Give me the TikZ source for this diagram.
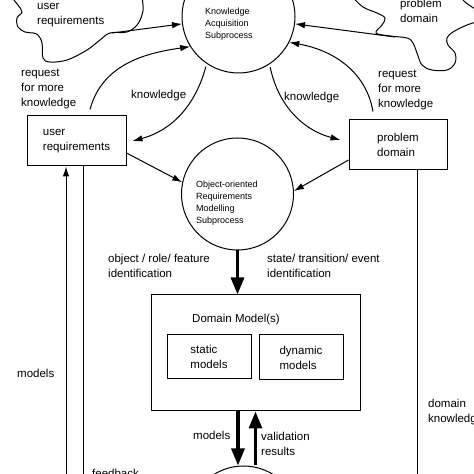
\documentclass[tikz,border=0pt]{standalone}
\usepackage{fontspec}
\setmainfont{Liberation Sans}
\usetikzlibrary{arrows.meta,positioning}

\begin{document}
\begin{tikzpicture}[x=1pt,y=1pt,
  box/.style={draw,line width=1pt,align=left,inner sep=0pt,font=\fontsize{11.5}{15}\selectfont},
  proc/.style={draw,circle,line width=1pt,inner sep=0pt},
  arrow/.style={-{Latex[length=10pt,width=6.5pt]},line width=1pt},
  bigarrow/.style={-{Triangle[length=17pt,width=13pt]},line width=3.2pt},
  line/.style={line width=1pt},
  cloud/.style={line width=1pt},
  note/.style={font=\fontsize{11.5}{15}\selectfont,align=left,inner sep=0pt},
  ptext/.style={font=\fontsize{9}{12}\selectfont,align=left,inner sep=0pt}
]
\useasboundingbox (0,0) rectangle (474,474);
\clip (0,0) rectangle (474,474);
% clouds
\draw[cloud] plot[smooth,tension=0.6] coordinates {(10,490) (13,476) (18,469) (22,462) (17,456) (18,447) (25,442) (33,441) (38,439) (42,431) (43,416) (50,412) (67,414) (87,424) (100,434) (110,441) (127,442) (137,449) (142,459) (143,469) (140,490)};
\draw[cloud] plot[smooth,tension=0.6] coordinates {(345,490) (352,478) (363,467) (377,461) (385,456) (382,449) (376,441) (390,438) (407,436) (413,431) (417,421) (422,409) (432,404) (447,404) (455,411) (455,421) (448,429) (447,436) (453,442) (467,449) (480,453)};
\draw[cloud] plot[smooth,tension=0.6] coordinates {(460,482) (463,474) (472,467) (482,461)};
\node[note,anchor=west] (ucltxt) at (37,458.5) {user\\requirements};
\node[note,anchor=west] (pcltxt) at (400,463) {problem\\domain};
\coordinate (uclout) at (112,441);
\coordinate (pclout) at (395,437);
% subprocesses
\node[proc,minimum size=113pt] (kac) at (238.5,457.5) {};
\node[ptext,anchor=west] (kactxt) at (205,450) {Knowledge\\Acquisition\\Subprocess};
\node[proc,minimum size=112pt] (orm) at (237.5,280) {};
\node[ptext,anchor=west] (ormtxt) at (196,270.5) {Object-oriented\\Requirements\\Modelling\\Subprocess};
\node[proc,minimum size=112pt] (valp) at (243.5,-48) {};
% boxes
\node[box,minimum width=99pt,minimum height=50pt] (ureq) at (76.5,333) {user\\requirements};
\node[box,minimum width=98pt,minimum height=50pt] (pdom) at (398,329) {problem\\domain};
\node[box,minimum width=209pt,minimum height=116pt] (dmod) at (255.5,121) {};
\node[note,anchor=west] (dmodtxt) at (192,154) {Domain Model(s)};
\node[box,minimum width=84pt,minimum height=44pt] (stat) at (209,117) {static\\models};
\node[box,minimum width=84pt,minimum height=45pt] (dyn) at (301,116.5) {dynamic\\models};
% labels
\node[note,anchor=west] (reql) at (21,385) {request\\for more\\knowledge};
\node[note,anchor=west] (knl) at (131,378) {knowledge};
\node[note,anchor=west] (knr) at (284,376) {knowledge};
\node[note,anchor=west] (reqr) at (378,384) {request\\for more\\knowledge};
\node[note,anchor=west] (orfl) at (108,208) {object / role/ feature\\identification};
\node[note,anchor=west] (stel) at (267,208) {state/ transition/ event\\identification};
\node[note,anchor=west] (mdll) at (17,101) {models};
\node[note,anchor=west] (mdlb) at (193,39) {models};
\node[note,anchor=west] (valr) at (261,30) {validation\\results};
\node[note,anchor=west] (dkn) at (428,61.5) {domain\\knowledge};
\node[note,anchor=base west] (fdb) at (92,-3.5) {feedback};
% connectors
\draw[arrow] (uclout) -- (kac);
\draw[arrow] (pclout) -- (kac);
\draw[arrow] ([xshift=13.5pt,yshift=6pt]ureq.north) to[out=75,in=188] (kac.212);
\draw[arrow,shorten <=3pt] (kac.236) to[out=255,in=15] ([xshift=6pt]ureq.east);
\draw[arrow] ([xshift=-25pt,yshift=8pt]pdom.north) to[out=100,in=350] (kac.333);
\draw[arrow,shorten <=3pt] (kac.303) to[out=282,in=165] ([xshift=-8pt,yshift=5pt]pdom.west);
\draw[arrow] ([yshift=-12pt]ureq.east) -- (orm.168);
\draw[arrow] ([yshift=-15pt]pdom.west) -- (orm.3);
\draw[bigarrow] (orm.south) -- (orm.south |- dmod.north);
\draw[bigarrow] ([xshift=-17.5pt]dmod.south) -- ([xshift=-17.5pt]dmod.south |- valp.north);
\draw[bigarrow] (dmod.south |- valp.north) -- (dmod.south);
\coordinate (fbin) at (66,-10);
\coordinate (mdout) at (83,-10);
\coordinate (dkout) at (417,-10);
\draw[arrow] (fbin) -- (fbin |- ureq.south);
\draw[line] (ureq.south -| mdout) -- (mdout);
\draw[line] (pdom.south -| dkout) -- (dkout);
\end{tikzpicture}
\end{document}
